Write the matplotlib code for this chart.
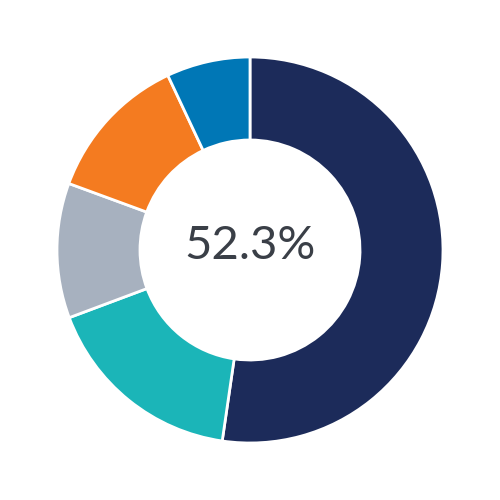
import matplotlib.pyplot as plt

plt.rcParams["font.family"] = ["Lato", "DejaVu Sans"]

labels = ["Navy", "Teal", "Gray", "Orange", "Blue"]
values = [52.3, 17.0, 11.3, 12.4, 7.0]
colors = ["#1c2b5a", "#1bb5b8", "#a7b1bf", "#f47b20", "#0077b6"]
center_text = "52.3%"

fig = plt.figure(figsize=(5, 5), dpi=100)
ax = fig.add_axes([0, 0, 1, 1])
ax.pie(values, colors=colors, startangle=90, counterclock=False, radius=1,
       wedgeprops=dict(width=0.43, edgecolor="white", linewidth=2))
ax.text(0, 0.02, center_text, ha="center", va="center", fontsize=34, color="#3a3f47")
lim = 250 / 193
ax.set_xlim(-lim, lim)
ax.set_ylim(-lim, lim)
ax.set_aspect("equal")
ax.axis("off")
plt.savefig("out.png", dpi=100)
